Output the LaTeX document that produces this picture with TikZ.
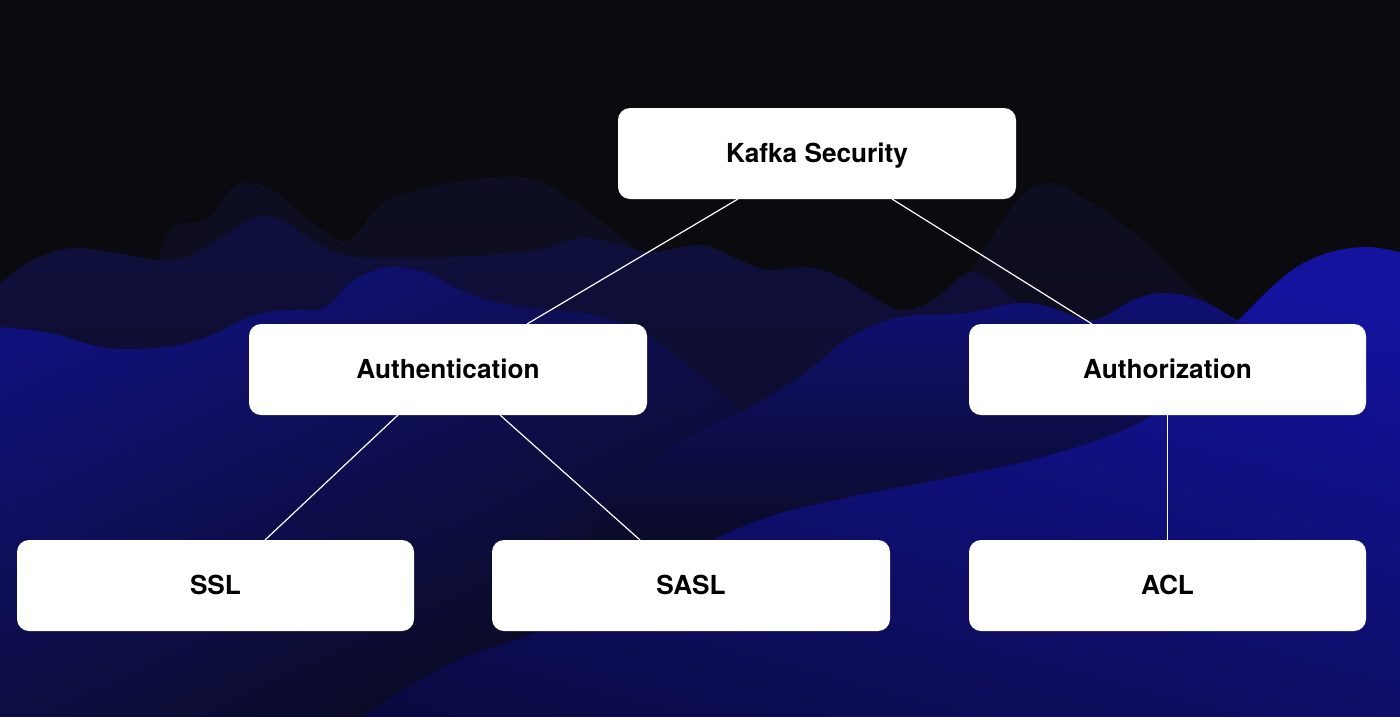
\documentclass[tikz,border=0pt]{standalone}
\usepackage{fontspec}
\setmainfont{TeX Gyre Heros}
\definecolor{bg}{RGB}{11,11,15}
\definecolor{lonea}{RGB}{14,14,34}
\definecolor{loneb}{RGB}{11,11,20}
\definecolor{ltwoa}{RGB}{15,15,62}
\definecolor{ltwob}{RGB}{10,10,22}
\definecolor{lthreea}{RGB}{16,16,122}
\definecolor{lthreeb}{RGB}{10,10,22}
\definecolor{bumpa}{RGB}{15,15,116}
\definecolor{bumpb}{RGB}{10,10,24}
\definecolor{fronta}{RGB}{19,19,158}
\definecolor{frontm}{RGB}{11,11,102}
\definecolor{frontb}{RGB}{10,10,66}
\begin{document}
\begin{tikzpicture}[x=1pt,y=-1pt,
  box/.style={fill=white, rounded corners=12pt, minimum width=398pt, minimum height=91pt,
    inner sep=0pt, outer sep=0pt, text=black, text height=18.8pt, text depth=0pt,
    font=\fontsize{26.2}{30}\selectfont\bfseries},
  link/.style={draw=white, line width=1.2pt}]
\useasboundingbox (0,0) rectangle (1400,716);
\clip (0,0) rectangle (1400,716);
\fill[bg] (-20,-20) rectangle (1420,740);
% faint back layer
\shade[top color=lonea, bottom color=loneb]
  plot[smooth, tension=0.6] coordinates {(140,330)(157,262)(175,226)(207,220)(230,190)(247,183)(273,190)(300,213)(333,237)(352,238)(383,203)(417,190)(450,183)(500,177)(537,180)(567,197)(600,220)(650,260)(750,330)(850,380)(950,300)(985,248)(1020,198)(1050,183)(1083,198)(1117,220)(1150,247)(1183,280)(1217,310)(1260,345)}
  -- (1260,740) -- (140,740) -- cycle;
% dark navy layer
\shade[top color=ltwoa, bottom color=ltwob]
  plot[smooth, tension=0.6] coordinates {(-20,292)(0,283)(33,260)(73,248)(117,253)(157,260)(187,257)(217,240)(257,217)(287,223)(317,243)(350,256)(417,258)(483,255)(537,250)(580,238)(613,243)(650,252)(700,245)(733,257)(767,270)(807,267)(840,277)(867,293)(900,310)(933,300)(967,273)(990,280)(1017,303)(1060,340)(1100,380)}
  -- (1100,740) -- (-20,740) -- cycle;
% bright left layer
\shade[top color=lthreea, bottom color=lthreeb, shading angle=25]
  plot[smooth, tension=0.6] coordinates {(-20,326)(0,327)(50,333)(107,348)(167,347)(207,337)(250,317)(283,310)(323,308)(350,283)(370,272)(393,267)(427,273)(467,293)(510,305)(550,310)(583,313)(633,327)(680,360)(730,400)(770,430)}
  -- (770,740) -- (-20,740) -- cycle;
% right bump layer
\shade[top color=bumpa, bottom color=bumpb]
  plot[smooth, tension=0.6] coordinates {(560,600)(600,520)(670,449)(741,412)(790,383)(815,365)(850,337)(900,317)(967,313)(1017,303)(1050,307)(1093,320)(1133,300)(1163,293)(1200,300)(1237,320)(1280,345)(1420,400)}
  -- (1420,560) -- (560,560) -- cycle;
% front layer with right hill
\shade[top color=fronta, middle color=frontm, bottom color=frontb, shading angle=-15]
  plot[smooth, tension=0.6] coordinates {(300,760)(403,690)(470,655)(541,630)(650,570)(760,520)(850,497)(948,478)(1050,455)(1141,422)(1195,375)(1237,322)(1300,265)(1363,247)(1420,258)}
  -- (1420,760) -- cycle;
% nodes
\node[box] (ks) at (817,153.5) {Kafka Security};
\node[box] (authn) at (448,369.5) {Authentication};
\node[box, minimum width=397pt] (authz) at (1167.5,369.5) {Authorization};
\node[box, minimum width=397pt] (ssl) at (215.5,585.5) {SSL};
\node[box] (sasl) at (691,585.5) {SASL};
\node[box, minimum width=397pt] (acl) at (1167.5,585.5) {ACL};
% connectors
\draw[link] ([xshift=-79pt]ks.south) -- ([xshift=79pt]authn.north);
\draw[link] ([xshift=75pt]ks.south) -- ([xshift=-75.5pt]authz.north);
\draw[link] ([xshift=-50pt]authn.south) -- ([xshift=49.5pt]ssl.north);
\draw[link] ([xshift=52pt]authn.south) -- ([xshift=-51pt]sasl.north);
\draw[link] (authz.south) -- (acl.north);
\end{tikzpicture}
\end{document}
